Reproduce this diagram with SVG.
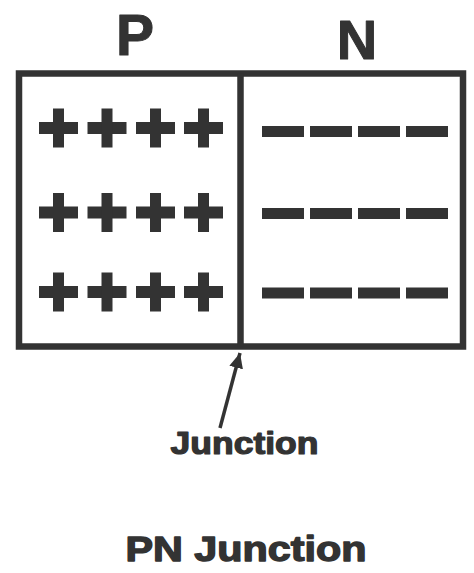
<svg xmlns="http://www.w3.org/2000/svg" width="474" height="573" viewBox="0 0 474 573">
<style>
.t{font-family:"Liberation Sans",Arial,sans-serif;font-weight:bold;fill:#333;stroke:#333;stroke-linejoin:round}
.box{fill:none;stroke:#333;stroke-width:6.5}
.c{fill:#333}
</style>
<defs>
<g id="plus"><rect x="-19.5" y="-6" width="39" height="12"/><rect x="-5.5" y="-19.5" width="11" height="39"/></g>
<rect id="minus" x="-21" y="-5.5" width="42" height="11"/>
<marker id="ah" markerUnits="userSpaceOnUse" markerWidth="15" markerHeight="14" refX="15" refY="7" orient="auto" viewBox="0 0 15 14"><path d="M0,0 L15,7 L0,14 Z" fill="#333"/></marker>
</defs>
<rect width="474" height="573" fill="#fff"/>
<g id="label-P"><text class="t" x="135" y="55" font-size="57" stroke-width="1" text-anchor="middle">P</text></g>
<g id="label-N"><text class="t" x="357" y="59" font-size="56" stroke-width="1" text-anchor="middle">N</text></g>
<g id="pn-block">
<rect class="box" x="19" y="73.5" width="444" height="273"/>
<line x1="240.5" y1="73.5" x2="240.5" y2="346.5" stroke="#333" stroke-width="6.5"/>
</g>
<g id="p-region" class="c">
<use href="#plus" x="58.5" y="128"/><use href="#plus" x="107" y="128"/><use href="#plus" x="155.5" y="128"/><use href="#plus" x="203.5" y="128"/>
<use href="#plus" x="58.5" y="212.5"/><use href="#plus" x="107" y="212.5"/><use href="#plus" x="155.5" y="212.5"/><use href="#plus" x="203.5" y="212.5"/>
<use href="#plus" x="58.5" y="292"/><use href="#plus" x="107" y="292"/><use href="#plus" x="155.5" y="292"/><use href="#plus" x="203.5" y="292"/>
</g>
<g id="n-region" class="c">
<use href="#minus" x="283" y="131.5"/><use href="#minus" x="331" y="131.5"/><use href="#minus" x="379" y="131.5"/><use href="#minus" x="427" y="131.5"/>
<use href="#minus" x="283" y="213.5"/><use href="#minus" x="331" y="213.5"/><use href="#minus" x="379" y="213.5"/><use href="#minus" x="427" y="213.5"/>
<use href="#minus" x="283" y="293"/><use href="#minus" x="331" y="293"/><use href="#minus" x="379" y="293"/><use href="#minus" x="427" y="293"/>
</g>
<g id="connectors">
<line x1="220" y1="428" x2="240" y2="353" stroke="#333" stroke-width="3.5" marker-end="url(#ah)"/>
</g>
<g id="label-junction"><text class="t" x="170.5" y="453.5" font-size="30.5" stroke-width="1.2" textLength="148" lengthAdjust="spacingAndGlyphs">Junction</text></g>
<g id="title"><text class="t" x="125.5" y="560.5" font-size="35.5" stroke-width="1.4" textLength="241" lengthAdjust="spacingAndGlyphs">PN Junction</text></g>
</svg>
